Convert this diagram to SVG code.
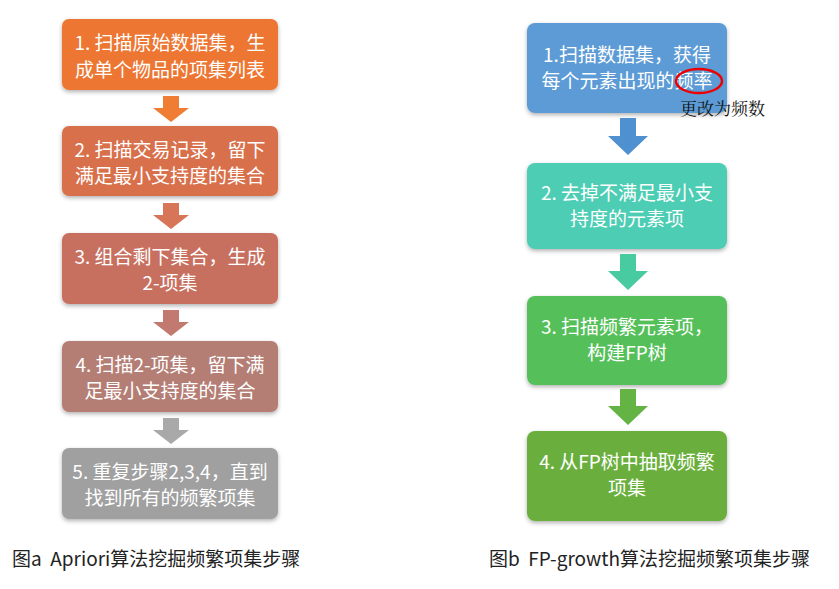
<svg xmlns="http://www.w3.org/2000/svg" width="839" height="589" viewBox="0 0 839 589">
<style>
.t{font-family:"Noto Sans CJK SC","Noto Sans",sans-serif;font-size:19px;fill:#fff;text-anchor:middle}
.c{font-family:"Noto Sans CJK SC","Noto Sans",sans-serif;font-size:19px;fill:#222}
.b{filter:url(#sh)}
</style>
<defs>
<filter id="sh" x="-10%" y="-10%" width="120%" height="130%"><feDropShadow dx="0" dy="2" stdDeviation="2" flood-color="#000" flood-opacity="0.3"/></filter>
</defs>
<rect width="839" height="589" fill="#fff"/>
<g id="a1"><rect class="b" x="62" y="19" width="216" height="71" rx="7" fill="#ec7630"/><text class="t" x="170" y="50">1. 扫描原始数据集，生</text><text class="t" x="170" y="77">成单个物品的项集列表</text></g>
<g id="a2"><rect class="b" x="62" y="126" width="216" height="70" rx="7" fill="#d86f4c"/><text class="t" x="170" y="157">2. 扫描交易记录，留下</text><text class="t" x="170" y="183">满足最小支持度的集合</text></g>
<g id="a3"><rect class="b" x="62" y="233" width="216" height="71" rx="7" fill="#c8705f"/><text class="t" x="170" y="264">3. 组合剩下集合，生成</text><text class="t" x="170" y="290">2-项集</text></g>
<g id="a4"><rect class="b" x="62" y="341" width="216" height="71" rx="7" fill="#b47e75"/><text class="t" x="170" y="372">4. 扫描2-项集，留下满</text><text class="t" x="170" y="398">足最小支持度的集合</text></g>
<g id="a5"><rect class="b" x="62" y="448" width="216" height="71" rx="7" fill="#a0a0a0"/><text class="t" x="170" y="479">5. 重复步骤2,3,4，直到</text><text class="t" x="170" y="505">找到所有的频繁项集</text></g>
<g id="b1"><rect class="b" x="527" y="23" width="200" height="90" rx="8" fill="#5b9bd5"/><text class="t" x="627" y="62">1.扫描数据集，获得</text><text class="t" x="627" y="88">每个元素出现的频率</text></g>
<g id="b2"><rect class="b" x="527" y="163" width="200" height="86" rx="8" fill="#4ecdb4"/><text class="t" x="627" y="200">2. 去掉不满足最小支</text><text class="t" x="627" y="226">持度的元素项</text></g>
<g id="b3"><rect class="b" x="527" y="296" width="200" height="89" rx="8" fill="#55bf5a"/><text class="t" x="627" y="334">3. 扫描频繁元素项，</text><text class="t" x="627" y="360">构建FP树</text></g>
<g id="b4"><rect class="b" x="527" y="431" width="200" height="90" rx="8" fill="#6aaf3e"/><text class="t" x="627" y="469">4. 从FP树中抽取频繁</text><text class="t" x="627" y="495">项集</text></g>
<g id="connectors">
<path d="M163 96h16v12h10l-18 14-18-14h10z" fill="#ef7d33"/>
<path d="M163 203h16v12h10l-18 14-18-14h10z" fill="#d77558"/>
<path d="M163 310h16v12h10l-18 14-18-14h10z" fill="#c27a70"/>
<path d="M163 418h16v12h10l-18 14-18-14h10z" fill="#a9a9a9"/>
<path d="M620 118h16v18h12l-20 19-20-19h12z" fill="#4f90d0"/>
<path d="M620 254h16v17h12l-20 19-20-19h12z" fill="#48cba0"/>
<path d="M620 389h16v17h12l-20 19-20-19h12z" fill="#64b445"/>
</g>
<g id="note"><ellipse cx="699" cy="81" rx="23" ry="12" fill="none" stroke="#e00" stroke-width="2.5"/><text x="680" y="115" font-family="Noto Serif CJK SC,Noto Sans CJK SC,serif" font-size="17" fill="#111">更改为频数</text></g>
<text class="c" x="12" y="566" xml:space="preserve">图a  Apriori算法挖掘频繁项集步骤</text>
<text class="c" x="489" y="566" xml:space="preserve">图b  FP-growth算法挖掘频繁项集步骤</text>
</svg>
